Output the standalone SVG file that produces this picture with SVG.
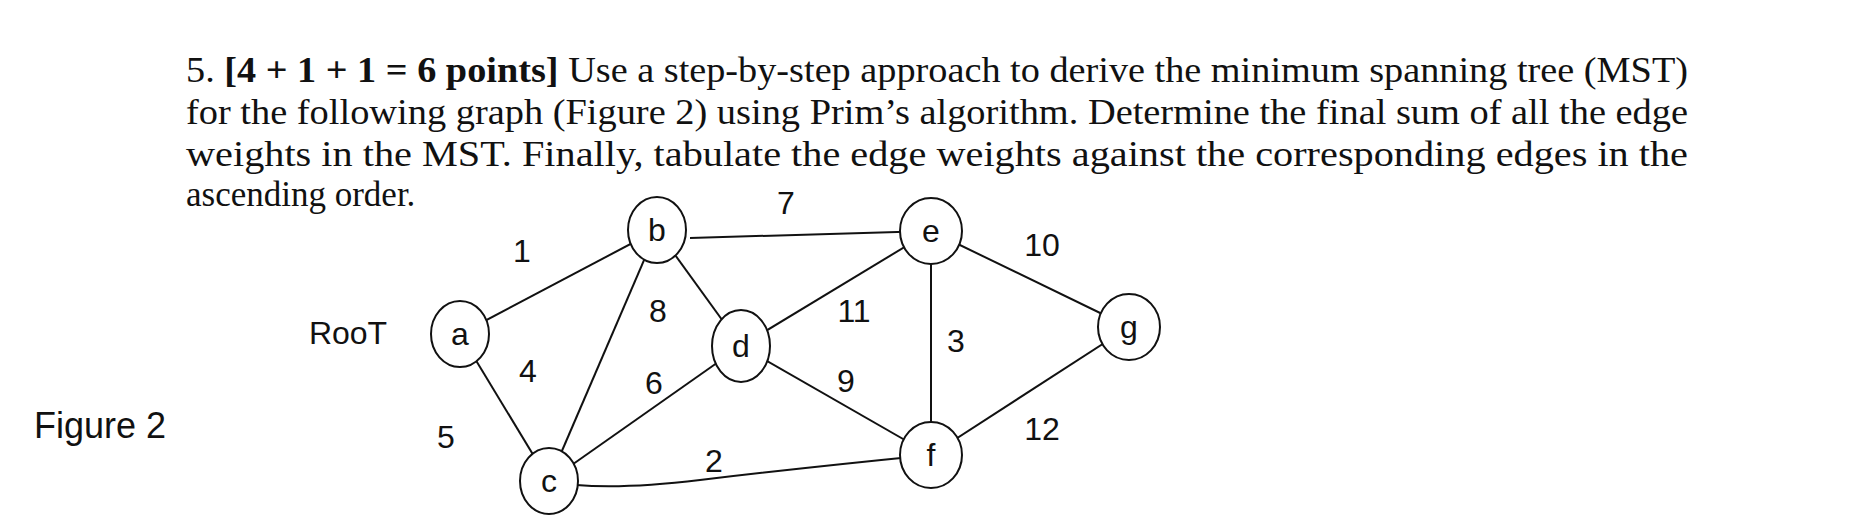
<svg xmlns="http://www.w3.org/2000/svg" width="1874" height="526" viewBox="0 0 1874 526">
<style>
.q{font-family:"Liberation Serif",serif;font-size:35px;fill:#111}
.n ellipse{fill:#fff;stroke:#111;stroke-width:2}
.n text,.h{font-family:"Liberation Sans",sans-serif;font-size:32px;fill:#111;text-anchor:middle}
.e{stroke:#111;stroke-width:2;fill:none}
</style>
<rect width="1874" height="526" fill="#fff"/>
<text class="q" x="186" y="82" textLength="1502" lengthAdjust="spacingAndGlyphs">5. <tspan font-weight="bold">[4 + 1 + 1 = 6 points]</tspan> Use a step-by-step approach to derive the minimum spanning tree (MST)</text>
<text class="q" x="186" y="124" textLength="1502" lengthAdjust="spacingAndGlyphs">for the following graph (Figure 2) using Prim’s algorithm. Determine the final sum of all the edge</text>
<text class="q" x="186" y="166" textLength="1502" lengthAdjust="spacingAndGlyphs">weights in the MST. Finally, tabulate the edge weights against the corresponding edges in the</text>
<text class="q" x="186" y="206">ascending order.</text>
<g id="edges" class="e">
<line x1="460" y1="334" x2="657" y2="230"/>
<line x1="460" y1="334" x2="549" y2="481"/>
<line x1="657" y1="230" x2="549" y2="481"/>
<line x1="657" y1="230" x2="741" y2="346"/>
<line x1="690" y1="238" x2="931" y2="231"/>
<line x1="549" y1="481" x2="741" y2="346"/>
<path d="M549 481 Q600 492 700 480 T931 455"/>
<line x1="741" y1="346" x2="931" y2="231"/>
<line x1="741" y1="346" x2="931" y2="455"/>
<line x1="931" y1="231" x2="931" y2="455"/>
<line x1="931" y1="231" x2="1129" y2="327"/>
<line x1="931" y1="455" x2="1129" y2="327"/>
</g>
<g id="a" class="n"><ellipse cx="460" cy="334" rx="29" ry="33"/><text x="460" y="345">a</text></g>
<g id="b" class="n"><ellipse cx="657" cy="230" rx="29" ry="33"/><text x="657" y="241">b</text></g>
<g id="c" class="n"><ellipse cx="549" cy="481" rx="29" ry="33"/><text x="549" y="492">c</text></g>
<g id="d" class="n"><ellipse cx="741" cy="346" rx="29" ry="36"/><text x="741" y="357">d</text></g>
<g id="e" class="n"><ellipse cx="931" cy="231" rx="31" ry="33"/><text x="931" y="242">e</text></g>
<g id="f" class="n"><ellipse cx="931" cy="455" rx="31" ry="33"/><text x="931" y="466">f</text></g>
<g id="g" class="n"><ellipse cx="1129" cy="327" rx="31" ry="33"/><text x="1129" y="338">g</text></g>
<g class="h">
<text x="786" y="214">7</text><text x="522" y="262">1</text><text x="1042" y="256">10</text>
<text x="658" y="322">8</text><text x="854" y="322">11</text><text x="956" y="352">3</text>
<text x="348" y="344">RooT</text><text x="528" y="382">4</text><text x="654" y="394">6</text>
<text x="846" y="392">9</text><text x="446" y="448">5</text><text x="1042" y="440">12</text>
<text x="714" y="472">2</text><text x="100" y="438" font-size="36">Figure 2</text>
</g>
</svg>
